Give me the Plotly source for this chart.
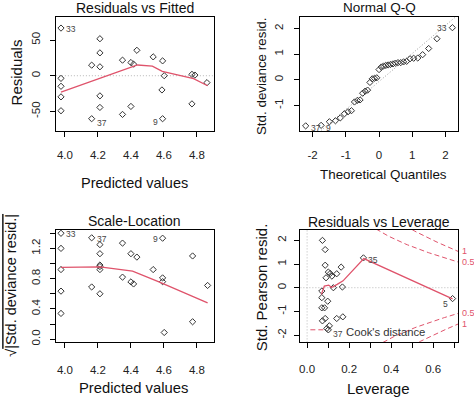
import numpy as np
import plotly.graph_objects as go

W, H = 474, 398
FONT = "Liberation Sans, Arial, sans-serif"
RED = "#DF536B"
PT = "#333333"

# ---------------- Panel 1: Residuals vs Fitted ----------------
rf_fitted = [3.976, 3.976, 3.976, 3.976, 3.976, 4.162, 4.212, 4.212, 4.212, 4.212,
             4.212, 4.162, 4.349, 4.349, 4.400, 4.416, 4.400, 4.436, 4.535, 4.592,
             4.602, 4.588, 4.592, 4.770, 4.788, 4.770, 4.861]
rf_resid = [66.7, -3.7, -14.8, -29.6, -49.0, 14.8, 51.8, 32.0, 12.5, -28.2,
            -44.4, -60.2, 21.8, -54.2, 18.5, 16.2, -43.0, 35.6, 26.4, 20.8,
            0.0, -19.9, -60.2, 1.9, 0.9, -39.4, -9.7]
rf_smooth_x = [3.976, 4.20, 4.35, 4.44, 4.53, 4.59, 4.78, 4.865]
rf_smooth_y = [-23.0, -4.5, 8.0, 15.0, 13.5, 6.0, -4.0, -14.0]
rf_label_idx = [0, 11, 22]
rf_label_txt = ["33", "37", "9"]
rf_xticks = [4.0, 4.2, 4.4, 4.6, 4.8]
rf_xticktext = ["4.0", "4.2", "4.4", "4.6", "4.8"]
rf_yticks = [-50, 0, 50]
rf_yticktext = ["-50", "0", "50"]

# ---------------- Panel 2: Normal Q-Q ----------------
qq_theo = [-2.21, -1.745, -1.495, -1.313, -1.167, -1.043, -0.934, -0.832, -0.740, -0.653,
           -0.571, -0.493, -0.418, -0.345, -0.274, -0.204, -0.136, -0.068, 0.0, 0.068,
           0.136, 0.204, 0.274, 0.345, 0.418, 0.493, 0.571, 0.653, 0.740, 0.832,
           0.934, 1.043, 1.167, 1.313, 1.495, 1.745, 2.21]
qq_sample = [-1.79, -1.77, -1.63, -1.59, -1.48, -1.32, -1.24, -1.20, -0.86, -0.80,
             -0.78, -0.52, -0.44, -0.40, -0.10, 0.04, 0.06, 0.08, 0.40, 0.50,
             0.54, 0.56, 0.58, 0.60, 0.62, 0.65, 0.67, 0.67, 0.70, 0.72,
             0.82, 0.84, 0.85, 0.98, 1.22, 1.60, 2.03]
qq_line_intercept = -0.065
qq_line_slope = 1.09
qq_label_idx = [0, 1, 36]
qq_label_txt = ["37", "9", "33"]
qq_xticks = [-2, -1, 0, 1, 2]
qq_xticktext = ["-2", "-1", "0", "1", "2"]
qq_yticks = [-1, 0, 1, 2]
qq_yticktext = ["-1", "0", "1", "2"]

# ---------------- Panel 3: Scale-Location ----------------
sl_fitted = [3.976, 3.976, 3.976, 3.976, 3.976, 4.162, 4.162, 4.212, 4.212, 4.212,
             4.212, 4.212, 4.212, 4.349, 4.349, 4.400, 4.436, 4.400, 4.416, 4.535,
             4.592, 4.592, 4.592, 4.602, 4.774, 4.774, 4.865]
sl_sqrt = [1.40, 1.20, 0.92, 0.635, 0.34, 1.34, 0.69, 1.25, 1.13, 0.98,
           0.96, 0.92, 0.60, 1.27, 0.82, 1.13, 1.085, 0.757, 0.73, 0.92,
           1.335, 0.81, 0.76, 0.088, 1.10, 0.23, 0.71]
sl_smooth_x = [3.976, 4.212, 4.41, 4.57, 4.865]
sl_smooth_y = [0.950, 0.955, 0.90, 0.757, 0.48]
sl_label_idx = [0, 5, 20]
sl_label_txt = ["33", "37", "9"]
sl_xticks = [4.0, 4.2, 4.4, 4.6, 4.8]
sl_xticktext = ["4.0", "4.2", "4.4", "4.6", "4.8"]
sl_yticks = [0.0, 0.2, 0.4, 0.6, 0.8, 1.0, 1.2, 1.4]
sl_yticktext = ["0.0", "", "0.4", "", "0.8", "", "1.2", ""]

# ---------------- Panel 4: Residuals vs Leverage ----------------
lv_hat = [0.073, 0.086, 0.086, 0.101, 0.110, 0.090, 0.118, 0.141, 0.162, 0.125,
          0.168, 0.268, 0.070, 0.070, 0.098, 0.070, 0.083, 0.073, 0.086, 0.141,
          0.170, 0.094, 0.106, 0.101, 0.692]
lv_resid = [2.00, 1.61, 0.95, 0.66, 0.60, 0.42, 0.49, 0.59, 0.87, 0.00,
            0.03, 1.26, -0.14, -0.42, -0.57, -0.85, -0.85, -1.40, -1.30, -1.30,
            -1.23, -1.72, -1.61, -1.78, -0.46]
lv_smooth_x = [0.068, 0.082, 0.103, 0.116, 0.143, 0.171, 0.270, 0.692]
lv_smooth_y = [-0.28, 0.07, 0.11, 0.01, 0.14, 0.29, 1.23, -0.47]
lv_label_idx = [11, 24, 23]
lv_label_txt = ["35", "5", "37"]
cook_levels = [0.5, 1.0]
n_params = 6
lv_xticks = [0.0, 0.1, 0.2, 0.3, 0.4, 0.5, 0.6, 0.7]
lv_xticktext = ["0.0", "", "0.2", "", "0.4", "", "0.6", ""]
lv_yticks = [-2, -1, 0, 1, 2]
lv_yticktext = ["-2", "-1", "0", "1", "2"]

# axis ranges (R's usr)
rf_xr, rf_yr = [3.945, 4.901], [-77.4, 82.4]
qq_xr, qq_yr = [-2.37, 2.38], [-1.99, 2.45]
sl_xr, sl_yr = [3.945, 4.901], [-0.043, 1.444]
lv_xr, lv_yr = [-0.032, 0.718], [-2.31, 2.44]


def px(x):
    return x / W


def py(y):
    return 1 - y / H


fig = go.Figure()

pts = dict(mode="markers", marker=dict(symbol="diamond-open", size=4.8,
                                      color=PT, line=dict(width=1, color=PT)),
           hoverinfo="skip", showlegend=False)
smooth = dict(mode="lines", line=dict(color=RED, width=1.3), hoverinfo="skip",
              showlegend=False)
dotted = dict(mode="lines", line=dict(color="#B8B8B8", width=1, dash="1px,2px"),
              hoverinfo="skip", showlegend=False)

# Panel 1
fig.add_trace(go.Scatter(x=rf_xr, y=[0, 0], xaxis="x", yaxis="y", **dotted))
fig.add_trace(go.Scatter(x=rf_fitted, y=rf_resid, xaxis="x", yaxis="y", **pts))
fig.add_trace(go.Scatter(x=rf_smooth_x, y=rf_smooth_y, xaxis="x", yaxis="y", **smooth))

# Panel 2
qx = np.array(qq_xr)
fig.add_trace(go.Scatter(x=qx, y=qq_line_intercept + qq_line_slope * qx, xaxis="x2", yaxis="y2",
                         mode="lines", line=dict(color="#999999", width=1, dash="1px,2px"),
                         hoverinfo="skip", showlegend=False))
fig.add_trace(go.Scatter(x=qq_theo, y=qq_sample, xaxis="x2", yaxis="y2", **pts))

# Panel 3
fig.add_trace(go.Scatter(x=sl_fitted, y=sl_sqrt, xaxis="x3", yaxis="y3", **pts))
fig.add_trace(go.Scatter(x=sl_smooth_x, y=sl_smooth_y, xaxis="x3", yaxis="y3", **smooth))

# Panel 4
fig.add_trace(go.Scatter(x=lv_xr, y=[0, 0], xaxis="x4", yaxis="y4", **dotted))
fig.add_trace(go.Scatter(x=[0, 0], y=lv_yr, xaxis="x4", yaxis="y4", **dotted))
hh = np.linspace(0.01, lv_xr[1], 101)
for lev in cook_levels:
    ch = np.sqrt(lev * n_params * (1 - hh) / hh)
    for sgn in (1, -1):
        fig.add_trace(go.Scatter(x=hh, y=sgn * ch, xaxis="x4", yaxis="y4", mode="lines",
                                 line=dict(color=RED, width=1, dash="5px,3px"),
                                 hoverinfo="skip", showlegend=False))
fig.add_trace(go.Scatter(x=lv_hat, y=lv_resid, xaxis="x4", yaxis="y4", **pts))
fig.add_trace(go.Scatter(x=lv_smooth_x, y=lv_smooth_y, xaxis="x4", yaxis="y4", **smooth))

# ---------- axes ----------
def ax(domain, rng, anchor, tickvals, ticktext, is_y, standoff):
    d = dict(domain=domain, range=rng, anchor=anchor, showline=True, mirror=True,
             linecolor="black", linewidth=1, ticks="outside", ticklen=5, tickwidth=1,
             tickcolor="black", showgrid=False, zeroline=False, tickmode="array",
             tickvals=tickvals, ticktext=ticktext, ticklabelstandoff=standoff,
             tickfont=dict(family=FONT, size=11.5, color="#222222"))
    if is_y:
        d.update(tickangle=-90)
    return d


dx_left = [px(55), px(213)]
dx_right = [px(300), px(458)]
dy_top = [py(132), py(17)]
dy_bot = [py(345), py(231.7)]

layout = dict(
    width=W, height=H, autosize=False,
    margin=dict(l=0, r=0, t=0, b=0),
    paper_bgcolor="white", plot_bgcolor="white",
    font=dict(family=FONT, color="#111111"),
    showlegend=False,
    xaxis=ax(dx_left, rf_xr, "y", rf_xticks, rf_xticktext, False, 8),
    yaxis=ax(dy_top, rf_yr, "x", rf_yticks, rf_yticktext, True, 5),
    xaxis2=ax(dx_right, qq_xr, "y2", qq_xticks, qq_xticktext, False, 8),
    yaxis2=ax(dy_top, qq_yr, "x2", qq_yticks, qq_yticktext, True, 7),
    xaxis3=ax(dx_left, sl_xr, "y3", sl_xticks, sl_xticktext, False, 12),
    yaxis3=ax(dy_bot, sl_yr, "x3", sl_yticks, sl_yticktext, True, 5),
    xaxis4=ax(dx_right, lv_xr, "y4", lv_xticks, lv_xticktext, False, 11),
    yaxis4=ax(dy_bot, lv_yr, "x4", lv_yticks, lv_yticktext, True, 4),
)
fig.update_layout(**layout)

ann = []


def text(x, y, s, size, angle=0, color="#111111", xanchor="center"):
    ann.append(dict(x=px(x), y=py(y), xref="paper", yref="paper", text=s, showarrow=False,
                    textangle=angle, xanchor=xanchor, yanchor="middle",
                    font=dict(family=FONT, size=size, color=color)))


# titles
text(134, 8, "Residuals vs Fitted", 14)
text(379, 8, "Normal Q-Q", 13.5)
text(134, 222.5, "Scale-Location", 14)
text(379, 223.5, "Residuals vs Leverage", 14)
# axis titles
text(133.5, 184, "Predicted values", 14.5)
text(383.5, 175.5, "Theoretical Quantiles", 13.4)
text(132.5, 390.5, "Predicted values", 14.8)
text(378.5, 391.5, "Leverage", 15)
text(15, 73, "Residuals", 15, angle=-90)
text(260.5, 76.7, "Std. deviance resid.", 13.4, angle=-90)
text(10, 287, "√<span style='text-decoration:overline'>|Std. deviance resid.|</span>", 14.5, angle=-90)
text(261, 289, "Std. Pearson resid.", 15, angle=-90)


def point_labels(xs, ys, idx, txt, xa, ya, shifts):
    for i, t, (sx, sy) in zip(idx, txt, shifts):
        ann.append(dict(x=xs[i], y=ys[i], xref=xa, yref=ya, text=t, showarrow=False,
                        xanchor="left" if sx > 0 else "right", yanchor="middle",
                        xshift=sx, yshift=sy,
                        font=dict(family=FONT, size=8.5, color="#444444")))


point_labels(rf_fitted, rf_resid, rf_label_idx, rf_label_txt, "x", "y",
             [(3, -1), (3, -4), (-3, -3)])
point_labels(qq_theo, qq_sample, qq_label_idx, qq_label_txt, "x2", "y2",
             [(3, -2), (3, -3), (-3, 0)])
point_labels(sl_fitted, sl_sqrt, sl_label_idx, sl_label_txt, "x3", "y3",
             [(3, -1), (3, -1), (-3, -1)])
point_labels(lv_hat, lv_resid, lv_label_idx, lv_label_txt, "x4", "y4",
             [(3, -2), (-3, -5), (3, -4)])

# Cook's distance level labels on the right margin
xmax = lv_xr[1]
for lev in cook_levels:
    aty = np.sqrt(lev * n_params * (1 - xmax) / xmax)
    for sgn in (1, -1):
        ann.append(dict(x=px(460), y=sgn * aty, xref="paper", yref="y4", text=f"{lev:g}",
                        showarrow=False, xanchor="left", yanchor="middle",
                        font=dict(family=FONT, size=9, color=RED)))

# legend for Cook's distance
fig.add_shape(type="line", xref="paper", yref="paper", x0=px(310), x1=px(323.5),
              y0=py(332.3), y1=py(332.3), line=dict(color=RED, width=1, dash="5px,3px"))
text(343.5, 335, "Cook's distance", 11.3, color="#333333", xanchor="left")

fig.update_layout(annotations=ann)
fig.write_html("out.html", config={"displayModeBar": False},
               post_script="document.body.style.margin='0';document.body.style.padding='0';")
